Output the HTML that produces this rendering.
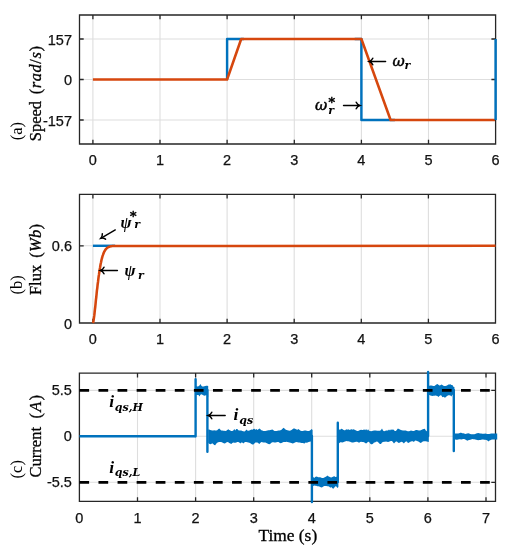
<!DOCTYPE html>
<html><head><meta charset="utf-8"><style>
html,body{margin:0;padding:0;background:#fff;}
body{width:514px;height:550px;overflow:hidden;}
svg{display:block;}
.tk{font-family:"Liberation Sans",Arial,sans-serif;fill:#111;stroke:#111;stroke-width:0.25px;}
.lb{font-family:"Liberation Serif","Times New Roman",serif;fill:#000;stroke:#000;stroke-width:0.3px;}
.mi{font-family:"Liberation Serif","Times New Roman",serif;font-style:italic;}
.bm{font-family:"DejaVu Serif","Liberation Serif",serif;font-style:italic;font-weight:normal;fill:#000;stroke:#000;stroke-width:0.45px;}
</style></head><body>
<svg width="514" height="550" viewBox="0 0 514 550">
<defs><clipPath id="c3"><rect x="79" y="365" width="419" height="138"/></clipPath></defs>
<rect width="514" height="550" fill="#fff"/>
<path d="M92.9 15V144M160 15V144M227.1 15V144M294.3 15V144M361.4 15V144M428.5 15V144M79.5 120H495.6M79.5 79.5H495.6M79.5 39H495.6" stroke="#dedede" stroke-width="1.1" fill="none"/>
<path d="M79.5 15H495.6V144H79.5ZM92.9 144v-4.2M92.9 15v4.2M160 144v-4.2M160 15v4.2M227.1 144v-4.2M227.1 15v4.2M294.3 144v-4.2M294.3 15v4.2M361.4 144v-4.2M361.4 15v4.2M428.5 144v-4.2M428.5 15v4.2M495.6 144v-4.2M495.6 15v4.2M79.5 120h4.2M495.6 120h-4.2M79.5 79.5h4.2M495.6 79.5h-4.2M79.5 39h4.2M495.6 39h-4.2" stroke="#262626" stroke-width="1.3" fill="none"/>
<path d="M227.1 79.5 227.1 39 243.9 39" stroke="#0072BD" stroke-width="2.45" fill="none" stroke-linejoin="round" />
<path d="M354.7 39 361.4 39 361.4 120 394.9 120" stroke="#0072BD" stroke-width="2.45" fill="none" stroke-linejoin="round" />
<path d="M92.9 79.5 227.1 79.5 241.2 39 361.4 39 390.6 120 494.9 120" stroke="#D6470E" stroke-width="2.55" fill="none" stroke-linejoin="round" />
<path d="M495.6 120 495.6 39" stroke="#0072BD" stroke-width="2.45" fill="none" stroke-linejoin="round" />
<text x="92.9" y="164.7" text-anchor="middle" class="tk" font-size="14.5">0</text>
<text x="160" y="164.7" text-anchor="middle" class="tk" font-size="14.5">1</text>
<text x="227.1" y="164.7" text-anchor="middle" class="tk" font-size="14.5">2</text>
<text x="294.3" y="164.7" text-anchor="middle" class="tk" font-size="14.5">3</text>
<text x="361.4" y="164.7" text-anchor="middle" class="tk" font-size="14.5">4</text>
<text x="428.5" y="164.7" text-anchor="middle" class="tk" font-size="14.5">5</text>
<text x="495.6" y="164.7" text-anchor="middle" class="tk" font-size="14.5">6</text>
<text x="72" y="125.5" text-anchor="end" class="tk" font-size="14.5">-157</text>
<text x="72" y="85" text-anchor="end" class="tk" font-size="14.5">0</text>
<text x="72" y="44.5" text-anchor="end" class="tk" font-size="14.5">157</text>
<path d="M92.9 194.3V323M160 194.3V323M227.1 194.3V323M294.2 194.3V323M361.3 194.3V323M428.4 194.3V323M79.5 245.8H495.5" stroke="#dedede" stroke-width="1.1" fill="none"/>
<path d="M79.5 194.3H495.5V323H79.5ZM92.9 323v-4.2M92.9 194.3v4.2M160 323v-4.2M160 194.3v4.2M227.1 323v-4.2M227.1 194.3v4.2M294.2 323v-4.2M294.2 194.3v4.2M361.3 323v-4.2M361.3 194.3v4.2M428.4 323v-4.2M428.4 194.3v4.2M495.5 323v-4.2M495.5 194.3v4.2M79.5 323h4.2M495.5 323h-4.2M79.5 245.8h4.2M495.5 245.8h-4.2" stroke="#262626" stroke-width="1.3" fill="none"/>
<path d="M92.9 245.8 115.1 245.8" stroke="#0072BD" stroke-width="2.45" fill="none" stroke-linejoin="round" />
<path d="M92.9 323 93.3 322 93.6 320.2 93.9 318 94.3 315.4 94.6 312.5 94.9 309.6 95.3 306.5 95.6 303.3 95.9 300.1 96.3 297 96.6 293.8 96.9 290.7 97.3 287.8 97.6 284.8 98 282 98.3 279.4 98.6 276.8 99 274.4 99.3 272.1 99.6 269.9 100 267.9 100.3 266 100.6 264.2 101 262.5 101.3 261 101.6 259.5 102 258.2 102.3 257 102.6 255.9 103 254.9 103.3 254 103.7 253.1 104 252.3 104.3 251.6 104.7 251 105 250.4 105.3 249.9 105.7 249.4 106 249 106.3 248.7 106.7 248.3 107 248 107.3 247.8 107.7 247.5 108 247.3 108.4 247.1 108.7 246.9 109 246.8 109.4 246.7 109.7 246.6 110 246.5 110.4 246.4 110.7 246.3 111 246.2 111.4 246.2 111.7 246.1 112 246.1 112.4 246 112.7 246 113 246 495.5 245.8" stroke="#D6470E" stroke-width="2.55" fill="none" stroke-linejoin="round" />
<text x="92.9" y="343.7" text-anchor="middle" class="tk" font-size="14.5">0</text>
<text x="160" y="343.7" text-anchor="middle" class="tk" font-size="14.5">1</text>
<text x="227.1" y="343.7" text-anchor="middle" class="tk" font-size="14.5">2</text>
<text x="294.2" y="343.7" text-anchor="middle" class="tk" font-size="14.5">3</text>
<text x="361.3" y="343.7" text-anchor="middle" class="tk" font-size="14.5">4</text>
<text x="428.4" y="343.7" text-anchor="middle" class="tk" font-size="14.5">5</text>
<text x="495.5" y="343.7" text-anchor="middle" class="tk" font-size="14.5">6</text>
<text x="72" y="328.5" text-anchor="end" class="tk" font-size="14.5">0</text>
<text x="72" y="251.3" text-anchor="end" class="tk" font-size="14.5">0.6</text>
<path d="M137.5 373.2V501.4M195.6 373.2V501.4M253.7 373.2V501.4M311.7 373.2V501.4M369.8 373.2V501.4M427.9 373.2V501.4M486 373.2V501.4M79.4 482.3H495.5M79.4 436.3H495.5M79.4 390.4H495.5" stroke="#dedede" stroke-width="1.1" fill="none"/>
<path d="M79.4 373.2H495.5V501.4H79.4ZM79.4 501.4v-4.2M79.4 373.2v4.2M137.5 501.4v-4.2M137.5 373.2v4.2M195.6 501.4v-4.2M195.6 373.2v4.2M253.7 501.4v-4.2M253.7 373.2v4.2M311.7 501.4v-4.2M311.7 373.2v4.2M369.8 501.4v-4.2M369.8 373.2v4.2M427.9 501.4v-4.2M427.9 373.2v4.2M486 501.4v-4.2M486 373.2v4.2M79.4 482.3h4.2M495.5 482.3h-4.2M79.4 436.3h4.2M495.5 436.3h-4.2M79.4 390.4h4.2M495.5 390.4h-4.2" stroke="#262626" stroke-width="1.3" fill="none"/>
<path d="M79.4 436.3 195.6 436.3" stroke="#0072BD" stroke-width="2.4" fill="none" stroke-linejoin="round" />
<path d="M195.6 385.9 196.5 386.2 197.5 386.4 198.5 386.3 199.5 385.5 200.4 383.9 201.4 385.8 202.4 386.5 203.3 386.5 204.3 386.2 205.3 386 206.3 385.8 207.2 385.7 208.2 386.1 208.2 396.9 207.2 395.8 206.3 395 205.3 395.4 204.3 395.7 203.3 395.3 202.4 394.8 201.4 394.3 200.4 394.7 199.5 396.4 198.5 395 197.5 394.9 196.5 395 195.6 395Z" fill="#0072BD" clip-path="url(#c3)"/>
<path d="M208.2 429.4 209.2 429.6 210.2 429.9 211.2 430.3 212.2 430.4 213.2 430.4 214.2 430.3 215.2 430.4 216.2 430.4 217.2 430.3 218.2 429.3 219.2 428.5 220.2 429.4 221.2 430.4 222.3 430.6 223.3 430.8 224.3 430.8 225.3 431.1 226.3 430.8 227.3 430.1 228.3 429.3 229.3 429.9 230.3 430.6 231.3 431.1 232.3 431.1 233.3 430.6 234.3 429 235.3 430.4 236.3 429.1 237.3 429.1 238.3 430.3 239.3 430.6 240.3 430.5 241.3 430.5 242.3 430.9 243.3 431.3 244.3 431.5 245.3 430.9 246.3 429.6 247.3 430.5 248.4 430.8 249.4 430.6 250.4 430 251.4 429.6 252.4 429.8 253.4 429.1 254.4 428.8 255.4 429.8 256.4 429.1 257.4 430.1 258.4 429.3 259.4 428.6 260.4 429.3 261.4 430.2 262.4 430.6 263.4 430.9 264.4 431.1 265.4 431 266.4 430.7 267.4 430.4 268.4 430.2 269.4 430.2 270.4 430 271.4 429.7 272.4 429.4 273.4 430.2 274.5 430.9 275.5 431.1 276.5 430.9 277.5 430.7 278.5 430.6 279.5 430.5 280.5 430.3 281.5 429.8 282.5 428.7 283.5 427.8 284.5 428.5 285.5 429.4 286.5 429.9 287.5 430.2 288.5 430.5 289.5 430.7 290.5 430.6 291.5 430.1 292.5 429.3 293.5 428.6 294.5 428.4 295.5 428.9 296.5 429.5 297.5 429.7 298.5 429.1 299.6 430 300.6 430.8 301.6 431.1 302.6 431 303.6 430.8 304.6 430.5 305.6 430.6 306.6 430.8 307.6 431 308.6 430.9 309.6 430.8 310.6 430 311.6 429.1 312.6 430 312.6 442 311.6 441.5 310.6 441.5 309.6 441.7 308.6 442.1 307.6 442.6 306.6 442.8 305.6 442.5 304.6 443.5 303.6 443.2 302.6 443 301.6 443 300.6 442.8 299.6 442.6 298.5 442.4 297.5 442.2 296.5 442.1 295.5 442.2 294.5 442.7 293.5 443.2 292.5 443.6 291.5 443.1 290.5 442.8 289.5 442.4 288.5 442.2 287.5 441.9 286.5 441.8 285.5 441.9 284.5 442.1 283.5 442.1 282.5 442.4 281.5 442.9 280.5 443.2 279.5 442.7 278.5 442 277.5 442 276.5 442.2 275.5 442.4 274.5 442.4 273.4 442.2 272.4 442.3 271.4 442.8 270.4 443.8 269.4 444.3 268.4 444.1 267.4 443.4 266.4 442.9 265.4 442.5 264.4 442.5 263.4 442.4 262.4 442.3 261.4 442 260.4 442.8 259.4 444.1 258.4 443.3 257.4 442.6 256.4 442.4 255.4 442.6 254.4 443.5 253.4 444.5 252.4 444.4 251.4 443.9 250.4 443.2 249.4 442.7 248.4 442.4 247.3 442.2 246.3 442.1 245.3 442 244.3 442.6 243.3 443.5 242.3 442.5 241.3 442.6 240.3 443.5 239.3 442.6 238.3 441.9 237.3 442.1 236.3 442.5 235.3 442.8 234.3 442.7 233.3 442.5 232.3 443 231.3 443.9 230.3 443.6 229.3 442.9 228.3 442.2 227.3 442 226.3 442.4 225.3 443.3 224.3 443.6 223.3 443 222.3 442.4 221.2 441.9 220.2 442 219.2 442 218.2 442.3 217.2 442.7 216.2 443.8 215.2 445.2 214.2 445 213.2 444.1 212.2 443.3 211.2 443.9 210.2 444.2 209.2 443.7 208.2 443Z" fill="#0072BD" clip-path="url(#c3)"/>
<path d="M311.2 474.8 312.2 475.8 313.2 477.1 314.2 477.9 315.2 477.1 316.2 476.4 317.2 476.7 318.3 477.2 319.3 477.2 320.3 477.3 321.3 477.7 322.3 478.1 323.3 478 324.3 477.6 325.3 477.1 326.3 476.4 327.3 475.4 328.3 476.2 329.3 476.8 330.3 477.2 331.3 477.4 332.4 477.1 333.4 476.4 334.4 476.2 335.4 477 336.4 477 337.4 475.8 338.4 476.6 338.4 486.9 337.4 488 336.4 486.4 335.4 486.2 334.4 487.6 333.4 488.7 332.4 488.2 331.3 487.1 330.3 487.8 329.3 486.8 328.3 486.3 327.3 486.3 326.3 486.1 325.3 486.1 324.3 486.1 323.3 486.4 322.3 487.2 321.3 487.6 320.3 487.1 319.3 486.6 318.3 486.3 317.2 486.2 316.2 485.7 315.2 485.7 314.2 485.5 313.2 485.9 312.2 487.3 311.2 486.6Z" fill="#0072BD" clip-path="url(#c3)"/>
<path d="M337.2 429.9 338.2 429.7 339.2 429.6 340.2 429.7 341.2 428.8 342.2 429 343.2 429.8 344.2 430.3 345.2 430.3 346.2 429.2 347.2 429.7 348.2 429.2 349.1 429.7 350.1 430.1 351.1 429 352.1 429.8 353.1 429.2 354.1 429.5 355.1 430.1 356.1 430.5 357.1 430.9 358.1 431 359.1 430.5 360.1 430 361.1 429.7 362.1 429.9 363.1 430 364.1 429.2 365.1 430.2 366.1 429 367.1 430.6 368.1 429.2 369.1 430.8 370.1 431.1 371.1 431.3 372 431 373 430.8 374 430.5 375 430.6 376 430.6 377 430.7 378 430.8 379 430.8 380 430.7 381 430 382 428.6 383 430.6 384 431.2 385 431.1 386 430.6 387 430.5 388 430.4 389 429.5 390 430.6 391 429.3 392 430.1 393 429.3 394 430.3 394.9 431.1 395.9 431 396.9 429.8 397.9 428.6 398.9 429.1 399.9 429.6 400.9 429.9 401.9 430.2 402.9 430.6 403.9 430.6 404.9 430.4 405.9 430.5 406.9 430.9 407.9 431.3 408.9 431.3 409.9 430.9 410.9 430.6 411.9 430.8 412.9 431 413.9 431 414.9 430.5 415.9 430.1 416.9 430 417.8 430.3 418.8 430.6 419.8 430.6 420.8 430.2 421.8 429.8 422.8 429.2 423.8 428.9 424.8 428.8 425.8 430.6 426.8 431.3 427.8 431.2 428.8 431 428.8 442 427.8 441.7 426.8 441.6 425.8 441.2 424.8 441.2 423.8 441.3 422.8 441.6 421.8 442.3 420.8 442.9 419.8 442.5 418.8 441.8 417.8 441.2 416.9 440.9 415.9 440.6 414.9 440.8 413.9 441.9 412.9 441.3 411.9 441.2 410.9 441.4 409.9 442 408.9 442.7 407.9 443 406.9 441.6 405.9 441.5 404.9 442.3 403.9 443.5 402.9 442.6 401.9 441.8 400.9 441.9 399.9 442.4 398.9 442.9 397.9 442.4 396.9 441.6 395.9 441.4 394.9 442.5 394 443.4 393 442.2 392 440.9 391 440.9 390 441.3 389 441.8 388 441.9 387 441.8 386 441.6 385 441.7 384 441.8 383 441.9 382 442.4 381 443.9 380 444.1 379 443.2 378 441.9 377 441.4 376 441.8 375 442.5 374 442.5 373 443.7 372 444.3 371.1 444.3 370.1 443.5 369.1 442 368.1 441.7 367.1 442.7 366.1 443.6 365.1 443 364.1 442.3 363.1 442.1 362.1 441.9 361.1 441.8 360.1 442.1 359.1 442.8 358.1 442.2 357.1 441.8 356.1 441.7 355.1 441.9 354.1 442.2 353.1 442.4 352.1 442.5 351.1 442.2 350.1 441.8 349.1 441.6 348.2 441.3 347.2 441.2 346.2 441.1 345.2 441.4 344.2 441.8 343.2 442.3 342.2 442.4 341.2 442.2 340.2 442.3 339.2 443.2 338.2 442.1 337.2 441.8Z" fill="#0072BD" clip-path="url(#c3)"/>
<path d="M427.4 386.2 428.4 385.9 429.4 385.7 430.4 385.4 431.4 385.6 432.4 385.8 433.4 386.1 434.4 386 435.4 385.3 436.4 384.5 437.4 383.9 438.4 384.7 439.4 385.5 440.4 385.2 441.4 384.4 442.4 385.1 443.4 385.8 444.4 386.1 445.4 386.1 446.4 385.8 447.4 385.2 448.4 384.6 449.4 384.5 450.4 384.3 451.4 385 452.4 385.1 453.4 386.7 454.4 387.1 454.4 395.3 453.4 394.8 452.4 394.8 451.4 396.4 450.4 395.4 449.4 395.3 448.4 395.3 447.4 395.7 446.4 396.6 445.4 397.4 444.4 397.4 443.4 396.8 442.4 397.3 441.4 395.6 440.4 395.3 439.4 396 438.4 396.9 437.4 396.1 436.4 395.7 435.4 395.6 434.4 395.7 433.4 395.7 432.4 395.9 431.4 395.7 430.4 395.5 429.4 395.1 428.4 394.9 427.4 394.7Z" fill="#0072BD" clip-path="url(#c3)"/>
<path d="M453.2 433.7 454.2 433.7 455.2 433.6 456.2 433.6 457.2 433.6 458.2 433.5 459.2 433.2 460.2 432.8 461.2 432.7 462.2 433.3 463.2 433.2 464.2 433.6 465.2 434 466.2 433.8 467.2 433.6 468.2 433.3 469.2 433.5 470.2 433.9 471.2 434.2 472.2 434.3 473.2 434.3 474.2 434.2 475.2 433.9 476.2 433.6 477.2 433.3 478.2 433.1 479.2 433.2 480.2 433.4 481.2 433.6 482.2 433.8 483.2 433.8 484.2 433.7 485.2 433.6 486.2 433.8 487.2 434 488.2 434.1 489.2 434 490.2 433.8 491.2 433.5 492.2 433.4 493.2 433.4 494.2 433.4 495.2 433.4 496.2 433.5 497.2 433.6 497.2 439.8 496.2 439.6 495.2 439.6 494.2 439.5 493.2 439.4 492.2 439.5 491.2 439.8 490.2 440.3 489.2 440.7 488.2 441.4 487.2 440.3 486.2 439.9 485.2 439.7 484.2 439.7 483.2 439.5 482.2 439.6 481.2 439.7 480.2 439.9 479.2 440.1 478.2 440.2 477.2 440.1 476.2 439.7 475.2 439.6 474.2 439.3 473.2 439.2 472.2 439 471.2 439.4 470.2 439.7 469.2 440 468.2 440.2 467.2 440.7 466.2 440.1 465.2 439.4 464.2 439.1 463.2 439.1 462.2 439.3 461.2 439.4 460.2 439.3 459.2 439.3 458.2 439.5 457.2 439.8 456.2 439.7 455.2 439.6 454.2 439.5 453.2 439.6Z" fill="#0072BD" clip-path="url(#c3)"/>
<path d="M195.6 436.3V379.3M207.4 390V451.7M311.9 436V502M337.8 482V422.8M428.1 436V372M453.8 390V451" stroke="#0072BD" stroke-width="2.4" fill="none" stroke-linecap="round"/>
<path d="M79.4 390.4H495.5" stroke="#000" stroke-width="2.8" stroke-dasharray="9.7 9.38" fill="none"/>
<path d="M79.4 482.3H495.5" stroke="#000" stroke-width="2.8" stroke-dasharray="9.7 9.38" fill="none"/>
<text x="79.4" y="522.7" text-anchor="middle" class="tk" font-size="14.5">0</text>
<text x="137.5" y="522.7" text-anchor="middle" class="tk" font-size="14.5">1</text>
<text x="195.6" y="522.7" text-anchor="middle" class="tk" font-size="14.5">2</text>
<text x="253.7" y="522.7" text-anchor="middle" class="tk" font-size="14.5">3</text>
<text x="311.7" y="522.7" text-anchor="middle" class="tk" font-size="14.5">4</text>
<text x="369.8" y="522.7" text-anchor="middle" class="tk" font-size="14.5">5</text>
<text x="427.9" y="522.7" text-anchor="middle" class="tk" font-size="14.5">6</text>
<text x="486" y="522.7" text-anchor="middle" class="tk" font-size="14.5">7</text>
<text x="71.9" y="487.3" text-anchor="end" class="tk" font-size="14.5">-5.5</text>
<text x="71.9" y="441.3" text-anchor="end" class="tk" font-size="14.5">0</text>
<text x="71.9" y="395.4" text-anchor="end" class="tk" font-size="14.5">5.5</text>
<!-- y labels -->
<g class="lb" font-size="16.5">
<text transform="translate(22.2,140.3) rotate(-90)" stroke-width="0">(a)</text>
<text transform="translate(41.2,141.3) rotate(-90)">Speed</text>
<text transform="translate(41.2,94.3) rotate(-90)" letter-spacing="0.55">(<tspan class="mi">rad</tspan>/<tspan class="mi">s</tspan>)</text>
<text transform="translate(22.2,294.4) rotate(-90)" stroke-width="0">(b)</text>
<text transform="translate(41.2,295.1) rotate(-90)">Flux</text>
<text transform="translate(41.2,257.7) rotate(-90)" letter-spacing="0.2">(<tspan class="mi">Wb</tspan>)</text>
<text transform="translate(22.2,478.4) rotate(-90)" stroke-width="0">(c)</text>
<text transform="translate(41.2,477.4) rotate(-90)">Current</text>
<text transform="translate(41.2,418.6) rotate(-90)" letter-spacing="1.3">(<tspan class="mi">A</tspan>)</text>
<text x="258.4" y="541" font-size="17.4">Time (s)</text>
</g>
<!-- arrows -->
<g fill="none" stroke="#000" stroke-linecap="round">
<path d="M369.6 61.5H385.6" stroke-width="1.4"/>
<path d="M372.8 58.3Q371.6 60.8 369.3 61.5Q371.6 62.2 372.8 64.7" stroke-width="1.5"/>
<path d="M343.5 105.5H359.4" stroke-width="1.4"/>
<path d="M356.2 102.3Q357.4 104.8 359.7 105.5Q357.4 106.2 356.2 108.7" stroke-width="1.5"/>
<path d="M100.8 270.5H117.4" stroke-width="1.4"/>
<path d="M104.0 267.3Q102.8 269.8 100.5 270.5Q102.8 271.2 104.0 273.7" stroke-width="1.5"/>
<path d="M208.6 415.5H225.2" stroke-width="1.4"/>
<path d="M211.8 412.3Q210.6 414.8 208.3 415.5Q210.6 416.2 211.8 418.7" stroke-width="1.5"/>
<g transform="translate(100.9,238.2) rotate(-30)">
<path d="M0.3 0H16.6" stroke-width="1.4"/>
<path d="M3.5 -3.2Q2.3 -0.7 0 0Q2.3 0.7 3.5 3.2" stroke-width="1.5"/>
</g>
</g>
<!-- annotation text -->
<g class="bm" font-size="15">
<text x="392.6" y="66">ω</text><text x="404.4" y="68.6" font-size="11" font-weight="bold" stroke-width="0">r</text>
<text x="314.9" y="110">ω</text><text x="328.3" y="113.8" font-size="11" font-weight="bold" stroke-width="0">r</text><text x="328.4" y="107.1" font-size="13" font-style="normal" stroke="#000" stroke-width="0.5">*</text>
<text x="124.6" y="276.3" font-family="'Liberation Serif', serif" font-size="16.5" font-weight="bold" stroke-width="0">ψ</text><text x="137.9" y="278.6" font-size="11" font-weight="bold" stroke-width="0">r</text>
<text x="120.4" y="227.6" font-family="'Liberation Serif', serif" font-size="16.5" font-weight="bold" stroke-width="0">ψ</text><text x="134.3" y="227.6" font-size="11" font-weight="bold" stroke-width="0">r</text><text x="129.9" y="221" font-size="13" font-style="normal" stroke="#000" stroke-width="0.5">*</text>
<text x="109.2" y="407.3" font-family="'Liberation Serif', serif" font-size="17.5" font-weight="bold" stroke-width="0">i</text><text x="114.8" y="410.8" font-size="11" font-weight="bold" stroke-width="0">qs,H</text>
<text x="233.6" y="420.2" font-family="'Liberation Serif', serif" font-size="17.5" font-weight="bold" stroke-width="0">i</text><text x="239.2" y="423.6" font-size="11" font-weight="bold" stroke-width="0">qs</text>
<text x="109.2" y="472.8" font-family="'Liberation Serif', serif" font-size="17.5" font-weight="bold" stroke-width="0">i</text><text x="114.8" y="475.8" font-size="11" font-weight="bold" stroke-width="0">qs,L</text>
</g>

</svg>
</body></html>
